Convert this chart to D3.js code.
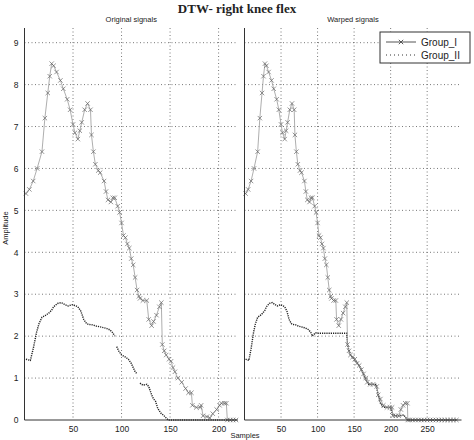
<!DOCTYPE html><html><head><meta charset="utf-8"><script src="https://d3js.org/d3.v7.min.js"></script>
<style>body{margin:0;background:#fff}text{font-family:"Liberation Sans",Arial,sans-serif;fill:#222}</style></head><body><svg id="c" width="474" height="440"></svg><script>
const g1Orig=[[1.5,5.4],[5,5.5],[9,5.7],[13,6.0],[18,6.4],[21,7.2],[24,7.8],[26,8.2],[28,8.5],[30,8.45],[33,8.3],[37,8.1],[40,7.9],[44,7.65],[47,7.4],[50,7.05],[52,6.85],[55,6.7],[57,6.9],[59,7.1],[62,7.4],[65,7.55],[68,7.4],[69,6.8],[71,6.4],[73,6.1],[76,5.95],[78,5.9],[82,5.7],[84,5.45],[86,5.25],[89,5.2],[91,5.3],[93,5.3],[96,5.1],[98,4.95],[100,4.7],[102,4.4],[104,4.35],[106,4.2],[108,4.1],[110,3.85],[112,3.7],[114,3.4],[116,3.1],[118,2.95],[119,2.9],[122,2.85],[126,2.85],[128,2.4],[131,2.25],[133,2.35],[136,2.5],[139,2.7],[141,2.8],[142,1.8],[144,1.65],[146,1.55],[149,1.45],[151,1.4],[153,1.25],[155,1.15],[158,1.0],[162,0.9],[166,0.75],[169,0.65],[172,0.65],[173,0.35],[177,0.3],[181,0.3],[182,0.35],[184,0.1],[188,0.08],[191,0.05],[194,0.15],[198,0.25],[201,0.35],[203,0.4],[206,0.4],[208,0.4],[209,0.0],[212,0],[215,0],[218,0]];
const g2Orig=[[1.5,1.45],[6,1.42],[9,1.7],[12.5,2.1],[15,2.3],[18,2.45],[22,2.5],[25,2.55],[28,2.62],[30,2.7],[34,2.78],[38,2.8],[42,2.75],[45,2.72],[49,2.75],[52,2.73],[55,2.7],[58,2.6],[61,2.4],[64,2.3],[66,2.28],[70,2.27],[74,2.24],[78,2.22],[82,2.2],[85,2.18],[88,2.15],[91,2.08],[93,2.0],[null,null],[95,1.75],[97,1.65],[100,1.55],[104,1.5],[107,1.45],[110,1.35],[112,1.25],[114,1.15],[116,1.1],[null,null],[119,0.88],[122,0.83],[126,0.85],[128,0.8],[131,0.6],[133,0.5],[135,0.45],[137,0.3],[138,0.25],[141,0.15],[143,0.12],[146,0.05],[148,0.0],[160,0],[180,0],[200,0],[218,0]];
const g1Warp=g1Orig.filter(d=>d[0]<=98).concat([[100,4.7],[102,4.4],[104,4.35],[106,4.2],[108,4.1],[110,3.85],[112,3.7],[114,3.4],[116,3.1],[118,2.95],[119,2.9],[122,2.85],[125,2.85],[126,2.4],[129,2.25],[132,2.4],[135,2.55],[138,2.7],[140,2.8],[141,1.8],[143,1.65],[145,1.55],[148,1.5],[151,1.45],[154,1.35],[157,1.3],[160,1.2],[163,1.1],[166,1.0],[168,0.9],[172,0.85],[176,0.85],[181,0.8],[183,0.6],[186,0.5],[190,0.35],[195,0.3],[199,0.3],[202,0.3],[203,0.1],[207,0.1],[211,0.1],[214,0.25],[217,0.35],[220,0.4],[223,0.4],[223.5,0],[226,0],[230,0],[234,0],[238,0],[242,0],[246,0],[250,0],[254,0],[258,0],[262,0],[266,0],[270,0],[274,0],[278,0],[282,0],[286,0],[290,0]]);
const g2Warp=g2Orig.filter(d=>d[0]!==null&&d[0]<=93).concat([[97,2.08],[101,2.07],[110,2.07],[120,2.07],[130,2.07],[140,2.07],[141,1.8],[143,1.65],[145,1.55],[150,1.45],[155,1.35],[160,1.2],[165,1.0],[170,0.85],[175,0.85],[180,0.85],[183,0.6],[186,0.4],[190,0.3],[195,0.3],[200,0.3],[203,0.12],[208,0.1],[213,0.1],[218,0.12],[223,0.0],[230,0],[250,0],[270,0],[290,0]]);
const yTicks=[0,1,2,3,4,5,6,7,8,9];
const xTicksL=[50,100,150,200], xTicksR=[50,100,150,200,250];
const svg=d3.select("#c");
const y=d3.scaleLinear().domain([0,9.35]).range([420,28]);
const X="M-2.2,-2.2L2.2,2.2M-2.2,2.2L2.2,-2.2";
const panels=[{x:d3.scaleLinear().domain([0,220]).range([24.5,238]),t:"Original signals",g1:g1Orig,g2:g2Orig,ticks:xTicksL},
{x:d3.scaleLinear().domain([0,297]).range([244.5,461.5]),t:"Warped signals",g1:g1Warp,g2:g2Warp,ticks:xTicksR}];
panels.forEach((p,i)=>{
 const [x0,x1]=p.x.range();
 const g=svg.append("g");
 yTicks.filter(v=>v>0).forEach(v=>g.append("line").attr("x1",x0).attr("x2",x1).attr("y1",y(v)).attr("y2",y(v)).attr("stroke","#555").attr("stroke-width",0.8).attr("stroke-dasharray","1,2.5"));
 p.ticks.forEach(v=>g.append("line").attr("x1",p.x(v)).attr("x2",p.x(v)).attr("y1",28).attr("y2",420).attr("stroke","#555").attr("stroke-width",0.8).attr("stroke-dasharray","1,2.5"));
 const line=d3.line().defined(d=>d[0]!==null).x(d=>p.x(d[0])).y(d=>y(d[1]));
 g.append("path").datum(p.g2).attr("d",line).attr("fill","none").attr("stroke","#222").attr("stroke-width",1.4).attr("stroke-dasharray","1.2,1");
 g.append("path").datum(p.g1).attr("d",line).attr("fill","none").attr("stroke","#999").attr("stroke-width",0.8);
 g.selectAll(".m").data(p.g1).enter().append("path").attr("d",X).attr("transform",d=>`translate(${p.x(d[0])},${y(d[1])})`).attr("fill","none").attr("stroke","#666").attr("stroke-width",0.7);
 g.append("line").attr("x1",x0).attr("x2",x0).attr("y1",28).attr("y2",420).attr("stroke","#333").attr("stroke-width",1);
 g.append("line").attr("x1",x0).attr("x2",x1).attr("y1",420).attr("y2",420).attr("stroke","#333").attr("stroke-width",1);
 g.append("g").attr("transform","translate(0,420)").call(d3.axisBottom(p.x).tickValues(p.ticks).tickSize(0).tickPadding(6)).call(a=>a.select(".domain").remove()).selectAll("text").attr("font-size",8.5).attr("fill","#222");
 if(i===0) g.append("g").attr("transform",`translate(${x0},0)`).call(d3.axisLeft(y).tickValues(yTicks).tickSize(0).tickPadding(6)).call(a=>a.select(".domain").remove()).selectAll("text").attr("font-size",8.5).attr("fill","#222");
 g.append("text").attr("x",(x0+x1)/2).attr("y",22).attr("text-anchor","middle").attr("font-size",7.5).text(p.t);
});
svg.append("text").attr("x",237).attr("y",13).attr("text-anchor","middle").attr("font-weight","bold").attr("font-size",13).style("font-family","Liberation Serif").text("DTW- right knee flex");
svg.append("text").attr("x",245).attr("y",438).attr("text-anchor","middle").attr("font-size",7.5).text("Samples");
svg.append("text").attr("transform","translate(8,228) rotate(-90)").attr("text-anchor","middle").attr("font-size",7.5).text("Amplitude");
const lg=svg.append("g");
lg.append("rect").attr("x",380).attr("y",32).attr("width",90).attr("height",31).attr("fill","#fff").attr("stroke","#333");
lg.append("line").attr("x1",386).attr("x2",416).attr("y1",42).attr("y2",42).attr("stroke","#555");
lg.append("path").attr("d",X).attr("transform","translate(401,42)").attr("fill","none").attr("stroke","#555");
lg.append("line").attr("x1",386).attr("x2",416).attr("y1",55).attr("y2",55).attr("stroke","#333").attr("stroke-dasharray","1,3");
lg.append("text").attr("x",421).attr("y",46).attr("font-size",10).text("Group_I");
lg.append("text").attr("x",421).attr("y",59).attr("font-size",10).text("Group_II");
</script></body></html>
